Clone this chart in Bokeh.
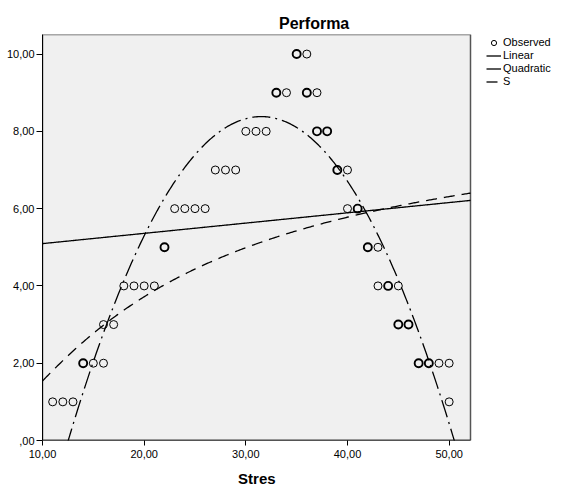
from collections import Counter

import numpy as np
from bokeh.plotting import figure
from bokeh.models import (Range1d, FixedTicker, Legend, LegendItem,
                          ColumnDataSource, Title)
from bokeh.embed import file_html
from bokeh.resources import INLINE

# observed cases (Stres, Performa); repeated pairs show up bolder
stres = [11, 12, 13, 50,
         14, 14, 15, 16, 47, 47, 48, 48, 49, 50,
         16, 17, 45, 45, 46, 46,
         18, 19, 20, 21, 43, 44, 44, 45,
         22, 22, 42, 42, 43,
         23, 24, 25, 26, 40, 41, 41,
         27, 28, 29, 39, 39, 40,
         30, 31, 32, 37, 37, 38, 38,
         33, 33, 34, 36, 36, 37,
         35, 35, 36]
performa = [1, 1, 1, 1,
            2, 2, 2, 2, 2, 2, 2, 2, 2, 2,
            3, 3, 3, 3, 3, 3,
            4, 4, 4, 4, 4, 4, 4, 4,
            5, 5, 5, 5, 5,
            6, 6, 6, 6, 6, 6, 6,
            7, 7, 7, 7, 7, 7,
            8, 8, 8, 8, 8, 8, 8,
            9, 9, 9, 9, 9, 9,
            10, 10, 10]

# curve estimation coefficients
linear_b = [4.829, 0.02656]                # b0 + b1*x
quadratic_b = [-14.712, 1.4655, -0.02325]  # b0 + b1*x + b2*x^2
s_b = [2.195, -17.63]                      # exp(b0 + b1/x)

x_ticks = [10, 20, 30, 40, 50]
x_tick_labels = ["10,00", "20,00", "30,00", "40,00", "50,00"]
y_ticks = [0, 2, 4, 6, 8, 10]
y_tick_labels = [",00", "2,00", "4,00", "6,00", "8,00", "10,00"]

x_min, x_max = 10, 52.1
y_min, y_max = 0, 10.506

W, H = 554, 493
left_px, top_px, bottom_px = 42, 34, 53
data_w = 428  # width of the grey plotting area in pixels
# the frame also covers the legend column, so stretch the x range to match
x_end = x_min + (x_max - x_min) * (W - left_px) / data_w
frame_h = H - top_px - bottom_px

xs = np.linspace(x_min, x_max, 400)
y_lin = linear_b[0] + linear_b[1] * xs
y_quad = quadratic_b[0] + quadratic_b[1] * xs + quadratic_b[2] * xs ** 2
y_s = np.exp(s_b[0] + s_b[1] / xs)

# one marker per distinct pair, thicker outline where cases overlap
counts = Counter(zip(stres, performa))
pts = ColumnDataSource(dict(
    x=[k[0] for k in counts],
    y=[k[1] for k in counts],
    lw=[1.0 + 0.9 * (n - 1) for n in counts.values()],
))

p = figure(width=W, height=H, output_backend="svg", toolbar_location=None,
           x_range=Range1d(x_min, x_end), y_range=Range1d(y_min, y_max),
           min_border_left=left_px, min_border_right=0, min_border_top=top_px,
           min_border_bottom=bottom_px)
p.border_fill_color = "white"
p.background_fill_color = "white"
p.outline_line_color = None
p.xgrid.visible = False
p.ygrid.visible = False

# grey plotting area with SPSS style frame
p.quad(left=[x_min], right=[x_max], bottom=[y_min], top=[y_max],
       fill_color="#f0f0f0", line_color="#555555", line_width=1.5)
p.line([x_min, x_max], [y_min, y_min], line_color="black", line_width=1.5)

p.title.text = "Performa"
p.title.align = "left"
p.title.offset = 236.5
p.title.standoff = 6
p.title.text_font = "Liberation Sans"
p.title.text_font_size = "16px"
p.title.text_font_style = "bold"
p.title.text_color = "black"

for ax in (p.xaxis[0], p.yaxis[0]):
    ax.major_tick_line_color = "black"
    ax.minor_tick_line_color = None
    ax.major_tick_in = 0
    ax.major_label_text_font = "Liberation Sans"
    ax.major_label_text_font_size = "11px"
    ax.major_label_text_color = "black"

p.xaxis.axis_line_color = None
p.xaxis.ticker = FixedTicker(ticks=x_ticks)
p.xaxis.major_label_overrides = dict(zip(x_ticks, x_tick_labels))
p.xaxis.major_tick_out = 5
p.xaxis.major_label_standoff = 4

p.yaxis.axis_line_color = "black"
p.yaxis.ticker = FixedTicker(ticks=y_ticks)
p.yaxis.major_label_overrides = dict(zip(y_ticks, y_tick_labels))
p.yaxis.major_tick_out = 6
p.yaxis.major_label_standoff = 2

# axis title centred under the grey area, not the whole frame
xlabel = Title(text="Stres", align="left", offset=195.6, standoff=14,
               text_font="Liberation Sans", text_font_size="15px",
               text_font_style="bold", text_color="black")
p.add_layout(xlabel, "below")

obs = p.scatter("x", "y", source=pts, marker="circle", size=8,
                fill_color=None, line_color="black", line_width="lw")
r_lin = p.line(xs, y_lin, line_color="black", line_width=1.3)
r_quad = p.line(xs, y_quad, line_color="black", line_width=1.3,
                line_dash="18 5 2 5")
r_s = p.line(xs, y_s, line_color="black", line_width=1.3, line_dash="11 7")

legend = Legend(items=[
    LegendItem(label="Observed", renderers=[obs]),
    LegendItem(label="Linear", renderers=[r_lin]),
    LegendItem(label="Quadratic", renderers=[r_quad]),
    LegendItem(label="S", renderers=[r_s]),
], location=(data_w + 16, frame_h - 1.5 - 52))
legend.border_line_color = None
legend.background_fill_alpha = 0
legend.padding = 0
legend.margin = 0
legend.spacing = 0
legend.glyph_width = 15
legend.glyph_height = 13
legend.label_height = 13
legend.label_standoff = 2
legend.label_text_font = "Liberation Sans"
legend.label_text_font_size = "11px"
legend.label_text_color = "black"
p.add_layout(legend)

open("out.html", "w").write(file_html(p, INLINE))
